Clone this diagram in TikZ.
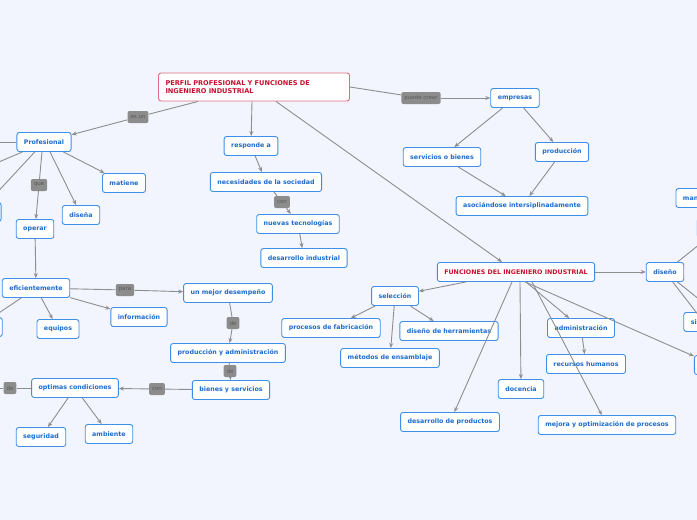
\documentclass[tikz,border=0pt]{standalone}
\usepackage{fontspec}
\setmainfont{DejaVu Sans}
\usetikzlibrary{arrows.meta}
\definecolor{bg}{HTML}{F2F5FD}
\definecolor{bd}{HTML}{3D8FE8}
\definecolor{tx}{HTML}{1B6CCF}
\definecolor{rd}{HTML}{C8102E}
\definecolor{rbd}{HTML}{D9707F}
\definecolor{lg}{HTML}{8C8C8C}
\definecolor{ln}{HTML}{8E8E8E}
\tikzset{
 bx/.style={draw=bd,fill=white,rounded corners=2.5pt,line width=0.9pt,text=tx,font=\fontsize{6.3}{7.5}\selectfont\bfseries,minimum height=19pt,inner xsep=7pt,inner ysep=2pt},
 rt/.style={bx,draw=rbd,text=rd,align=left,minimum width=191pt,minimum height=28pt,text width=177pt,font=\fontsize{6.6}{8}\selectfont\bfseries},
 fn/.style={bx,text=rd},
 lb/.style={fill=lg,rounded corners=2pt,text=black!65,font=\fontsize{5.5}{7}\selectfont,minimum height=12pt,inner xsep=3pt,inner ysep=1pt},
 ar/.style={draw=ln,line width=0.9pt,-{Stealth[length=5pt,width=4pt]}},
 pl/.style={draw=ln,line width=0.9pt}
}
\begin{document}
\begin{tikzpicture}[x=1pt,y=-1pt]
\fill[bg] (0,0) rectangle (697,520);
\useasboundingbox (0,0) rectangle (697,520);
\clip (0,0) rectangle (697,520);
\node[rt] (root) at (254,87) {PERFIL PROFESIONAL Y FUNCIONES DE\\INGENIERO INDUSTRIAL};
\node[bx] (prof) at (44,142) {Profesional};
\node[bx] (mat) at (124,183) {matiene};
\node[bx] (dis) at (81,215) {diseña};
\node[bx] (la) at (-21,212) {planifica};
\node[bx] (op) at (35,229) {operar};
\node[bx] (efi) at (36,288) {eficientemente};
\node[bx] (umd) at (228,293) {un mejor desempeño};
\node[bx] (inf) at (139,317) {información};
\node[bx] (eq) at (58,329) {equipos};
\node[bx] (as) at (-22,327) {maquinas};
\node[bx] (pya) at (228,353) {producción y administración};
\node[bx] (bys) at (231,390) {bienes y servicios};
\node[bx] (opt) at (75,388) {optimas condiciones};
\node[bx] (seg) at (41,437) {seguridad};
\node[bx] (amb) at (109,434) {ambiente};
\coordinate (off1) at (-20,388);
\coordinate (off2) at (-20,142);
\coordinate (off3) at (-20,170);
\node[bx] (resp) at (251,146) {responde a};
\node[bx] (nec) at (266,182) {necesidades de la sociedad};
\node[bx] (nt) at (298,224) {nuevas tecnologías};
\node[bx] (di) at (304,258) {desarrollo industrial};
\node[bx] (emp) at (515,98) {empresas};
\node[bx] (syb) at (442,157) {servicios o bienes};
\node[bx] (prod) at (562,152) {producción};
\node[bx] (aso) at (522,206) {asociándose intersiplinadamente};
\node[fn] (fun) at (516,272) {FUNCIONES DEL INGENIERO INDUSTRIAL};
\node[bx] (dr) at (665,272) {diseño};
\node[bx] (mant) at (710,198) {mantenimiento};
\node[bx] (sr) at (720,228) {sistemas};
\node[bx] (sis) at (712,322) {sistemas de};
\node[bx] (co) at (714,365) {control};
\node[bx] (x7) at (724,396) {calidad};
\node[bx] (sel) at (395,296) {selección};
\node[bx] (pf) at (331,328) {procesos de fabricación};
\node[bx] (dh) at (449,331) {diseño de herramientas};
\node[bx] (me) at (390,358) {métodos de ensamblaje};
\node[bx] (adm) at (581,328) {administración};
\node[bx] (rh) at (586,364) {recursos humanos};
\node[bx] (doc) at (521,389) {docencia};
\node[bx] (dp) at (450,422) {desarrollo de productos};
\node[bx] (mej) at (607,425) {mejora y optimización de procesos};
% labels
\node[lb] (l1) at (138,117) {es un};
\node[lb] (l2) at (39,185) {que};
\node[lb] (l3) at (125,290) {para};
\node[lb] (l4) at (233,323) {de};
\node[lb] (l5) at (230,371) {de};
\node[lb] (l6) at (157,389) {con};
\node[lb] (l7) at (10,388) {de};
\node[lb] (l8) at (282,202) {con};
\node[lb] (l9) at (421,98) {puede crear};
% edges
\draw[pl] (root.south west)++(40,0) -- (l1); \draw[ar] (l1) -- (prof);
\draw[ar] (root.south)++(-2,0) -- (resp);
\draw[ar] (root.south)++(22,0) -- (fun);
\draw[pl] (root.east) -- (l9); \draw[ar] (l9) -- (emp);
\draw[pl] (prof) -- (off2);
\draw[pl] (prof.south west)++(6,0) -- (off3);
\draw[ar] (prof) -- (la);
\draw[pl] (prof.south)++(-2,0) -- (l2); \draw[ar] (l2) -- (op);
\draw[ar] (prof.south)++(6,0) -- (dis);
\draw[ar] (prof) -- (mat);
\draw[ar] (op) -- (efi);
\draw[pl] (efi) -- (l3); \draw[ar] (l3) -- (umd);
\draw[ar] (efi) -- (inf);
\draw[ar] (efi) -- (eq);
\draw[ar] (efi) -- (as);
\draw[pl] (umd) -- (l4); \draw[ar] (l4) -- (pya);
\draw[pl] (pya) -- (l5); \draw[ar] (l5) -- (bys);
\draw[pl] (bys) -- (l6); \draw[ar] (l6) -- (opt);
\draw[pl] (opt) -- (l7); \draw[pl] (l7) -- (off1);
\draw[ar] (opt) -- (seg);
\draw[ar] (opt) -- (amb);
\draw[ar] (resp) -- (nec);
\draw[pl] (nec) -- (l8); \draw[ar] (l8) -- (nt);
\draw[ar] (nt) -- (di);
\draw[ar] (emp) -- (syb);
\draw[ar] (emp) -- (prod);
\draw[ar] (syb) -- (aso);
\draw[ar] (prod) -- (aso);
\draw[ar] (fun) -- (dr);
\draw[ar] (dr) -- (sr);
\draw[pl] (dr) -- (700,300);
\draw[pl] (dr) -- (710,330);
\draw[ar] (fun) -- (sel);
\draw[ar] (sel) -- (pf);
\draw[ar] (sel) -- (dh);
\draw[ar] (sel) -- (me);
\draw[ar] (fun.south)++(-4,0) -- (dp);
\draw[ar] (fun.south)++(4,0) -- (doc);
\draw[ar] (fun.south)++(10,0) -- (adm);
\draw[ar] (adm) -- (rh);
\draw[ar] (fun.south)++(16,0) -- (mej);
\draw[ar] (fun.south east)++(-70,0) -- (co);
\end{tikzpicture}
\end{document}
